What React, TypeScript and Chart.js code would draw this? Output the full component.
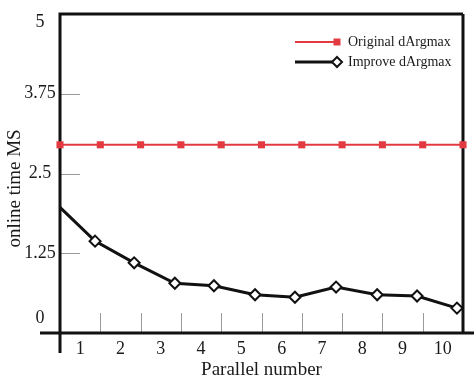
import { useEffect, useRef } from 'react';
import { Chart, registerables } from 'chart.js';

Chart.register(...registerables);

const ORIGINAL_X = [0, 1, 2, 3, 4, 5, 6, 7, 8, 9, 10];
const ORIGINAL_Y = [2.95, 2.95, 2.95, 2.95, 2.95, 2.95, 2.95, 2.95, 2.95, 2.95, 2.95];
const IMPROVE_X = [0, 0.87, 1.84, 2.85, 3.82, 4.84, 5.83, 6.85, 7.87, 8.86, 9.85];
const IMPROVE_Y = [1.97, 1.44, 1.1, 0.78, 0.74, 0.6, 0.56, 0.72, 0.6, 0.58, 0.39];
const X_TICK_LABELS = ['1', '2', '3', '4', '5', '6', '7', '8', '9', '10'];
const X_TICK_MARKS = [1, 2, 3, 4, 5, 6, 7, 8, 9];
const Y_TICK_VALUES = [0, 1.25, 2.5, 3.75, 5];
const Y_TICK_LABELS = ['0', '1.25', '2.5', '3.75', '5'];
const Y_TICK_MARKS = [1.25, 2.5, 3.75];
const SERIES_NAMES = ['Original dArgmax', 'Improve dArgmax'];
const Y_TITLE = 'online time MS';
const X_TITLE = 'Parallel number';

const FONT = '"Liberation Serif", "Times New Roman", serif';
const RED = '#e23a40';
const INK = '#111111';
const TEXT = '#1a1a1a';

const framePlugin = {
  id: 'frame',
  beforeDatasetsDraw(chart: any) {
    const { ctx, chartArea } = chart;
    const { left, right, top, bottom } = chartArea;
    const xs = chart.scales.x;
    const ys = chart.scales.y;
    ctx.save();
    // grey inner tick marks
    ctx.strokeStyle = '#9a9a9a';
    ctx.lineWidth = 1;
    ctx.beginPath();
    X_TICK_MARKS.forEach((v) => {
      const px = Math.round(xs.getPixelForValue(v)) + 0.5;
      ctx.moveTo(px, bottom);
      ctx.lineTo(px, bottom - 20);
    });
    Y_TICK_MARKS.forEach((v) => {
      const py = Math.round(ys.getPixelForValue(v)) + 0.5;
      ctx.moveTo(left, py);
      ctx.lineTo(left + 20, py);
    });
    ctx.stroke();
    // frame and axes
    ctx.strokeStyle = INK;
    ctx.lineWidth = 3;
    ctx.beginPath();
    ctx.moveTo(left, top);
    ctx.lineTo(right, top);
    ctx.moveTo(right, top);
    ctx.lineTo(right, bottom);
    ctx.moveTo(left, top - 1.5);
    ctx.lineTo(left, bottom + 20);
    ctx.moveTo(left - 20, bottom);
    ctx.lineTo(chart.width, bottom);
    ctx.stroke();
    // y tick labels
    ctx.fillStyle = TEXT;
    ctx.font = `18px ${FONT}`;
    ctx.textAlign = 'center';
    ctx.textBaseline = 'middle';
    Y_TICK_VALUES.forEach((v, i) => {
      let py = ys.getPixelForValue(v);
      py = Math.max(top + 8, Math.min(bottom - 15, py));
      ctx.fillText(Y_TICK_LABELS[i], left - 20, py);
    });
    // y title
    ctx.save();
    ctx.translate(15, (top + bottom) / 2 + 15);
    ctx.rotate(-Math.PI / 2);
    ctx.font = `19px ${FONT}`;
    ctx.fillText(Y_TITLE, 0, 0);
    ctx.restore();
    ctx.restore();
  },
  afterDraw(chart: any) {
    const { ctx, chartArea } = chart;
    const { right, top } = chartArea;
    ctx.save();
    chart.data.datasets.forEach((ds: any, i: number) => {
      const y = top + 28 + i * 20;
      const x0 = right - 168;
      const x1 = right - 126;
      ctx.strokeStyle = ds.borderColor;
      ctx.lineWidth = ds.borderWidth;
      ctx.beginPath();
      ctx.moveTo(x0, y);
      ctx.lineTo(x1, y);
      ctx.stroke();
      ctx.fillStyle = ds.pointBackgroundColor;
      ctx.strokeStyle = ds.pointBorderColor;
      ctx.lineWidth = 2;
      ctx.beginPath();
      if (ds.pointStyle === 'rect') {
        ctx.rect(x1 - 3.5, y - 3.5, 7, 7);
        ctx.fill();
      } else {
        const r = 5;
        ctx.moveTo(x1, y - r);
        ctx.lineTo(x1 + r, y);
        ctx.lineTo(x1, y + r);
        ctx.lineTo(x1 - r, y);
        ctx.closePath();
        ctx.fill();
        ctx.stroke();
      }
      ctx.fillStyle = TEXT;
      ctx.font = `14px ${FONT}`;
      ctx.textAlign = 'left';
      ctx.textBaseline = 'middle';
      ctx.fillText(ds.label, right - 115, y);
    });
    ctx.restore();
  },
};

export default function App() {
  const ref = useRef<HTMLCanvasElement>(null);
  useEffect(() => {
    if (!ref.current) return;
    const chart = new Chart(ref.current, {
      type: 'line',
      data: {
        datasets: [
          {
            label: SERIES_NAMES[0],
            data: ORIGINAL_X.map((x, i) => ({ x, y: ORIGINAL_Y[i] })),
            borderColor: RED,
            borderWidth: 2,
            pointStyle: 'rect',
            pointRadius: 5,
            pointBackgroundColor: RED,
            pointBorderColor: RED,
            pointBorderWidth: 0,
            clip: false,
          } as any,
          {
            label: SERIES_NAMES[1],
            data: IMPROVE_X.map((x, i) => ({ x, y: IMPROVE_Y[i] })),
            borderColor: INK,
            borderWidth: 3,
            pointStyle: 'rectRot',
            pointRadius: (c: any) => (c.dataIndex === 0 ? 0 : 5.5),
            pointBackgroundColor: '#ffffff',
            pointBorderColor: INK,
            pointBorderWidth: 2,
            clip: false,
          } as any,
        ],
      },
      options: {
        responsive: false,
        animation: false,
        layout: { padding: { top: 14, right: 11, left: 0, bottom: 0 } },
        plugins: { legend: { display: false }, tooltip: { enabled: false } },
        scales: {
          x: {
            type: 'linear',
            min: 0,
            max: 10,
            grid: { display: false, drawTicks: false },
            border: { display: false },
            afterBuildTicks: (scale: any) => {
              scale.ticks = X_TICK_LABELS.map((_, i) => ({ value: i + 0.5 }));
            },
            afterFit: (scale: any) => {
              scale.height = 46;
            },
            ticks: {
              autoSkip: false,
              maxRotation: 0,
              padding: 5,
              color: TEXT,
              font: { family: FONT, size: 18 },
              callback: (_v: any, i: number) => X_TICK_LABELS[i],
            },
            title: {
              display: true,
              text: X_TITLE,
              color: TEXT,
              font: { family: FONT, size: 19 },
              padding: { top: 0, bottom: -2 },
            },
          },
          y: {
            type: 'linear',
            min: 0,
            max: 5,
            grid: { display: false, drawTicks: false },
            border: { display: false },
            ticks: { display: false },
            afterFit: (scale: any) => {
              scale.width = 60;
            },
            title: { display: false },
          },
        },
      } as any,
      plugins: [framePlugin],
    });
    return () => chart.destroy();
  }, []);
  return (
    <div style={{ position: 'absolute', left: 0, top: 0, width: 474, height: 379, background: '#fff' }}>
      <canvas ref={ref} width={474} height={379} />
    </div>
  );
}
